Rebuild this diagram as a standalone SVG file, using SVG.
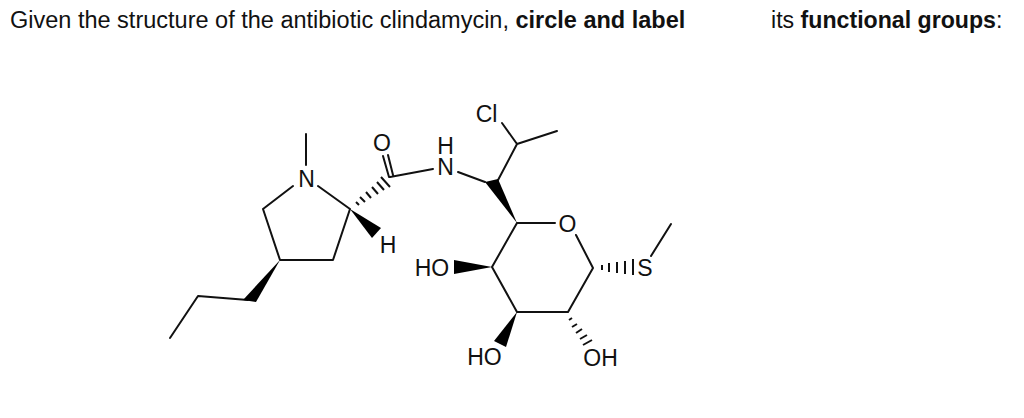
<svg xmlns="http://www.w3.org/2000/svg" width="1024" height="418" viewBox="0 0 1024 418">
<style>
text{font-family:"Liberation Sans",Arial,sans-serif;fill:#111}
.h{font-size:23.5px}
.r{font-size:23.15px}
.a{font-size:23px;text-anchor:middle}
.b{stroke:#111;stroke-width:2;fill:none;stroke-linecap:round;stroke-linejoin:round}
.w{fill:#000;stroke:none}
.d{stroke:#111;stroke-width:2;fill:none}
</style>
<rect width="1024" height="418" fill="#fff"/>
<g id="question">
<text class="h" x="10" y="28">Given the structure of the antibiotic clindamycin, <tspan font-weight="700">circle and label</tspan></text>
<text class="r" x="771" y="28">its <tspan font-weight="700">functional groups</tspan>:</text>
</g>
<g id="connectors">
<path class="b" d="M306 134V165M293 186L263 209L280 260H333L350 209L318 186"/>
<path class="b" d="M390 177L433 169M389 177L383 156M393 175L388 155"/>
<path class="b" d="M170 338L198 296L248 300"/>
<path class="b" d="M458 172L485 182M497 182L517 144L557 131M517 144L502 123"/>
<path class="b" d="M517 223H555M576 235L593 268L568 312H517L492 267L517 223"/>
<path class="b" d="M651 256L671 224"/>
<path class="w" d="M280 260L243 300L256 302Z"/>
<path class="w" d="M350 209L381 228L372 238Z"/>
<path class="w" d="M517 223L485 182L498 179Z"/>
<path class="w" d="M492 267L454 260V274Z"/>
<path class="w" d="M517 312L494 341L506 347Z"/>
<path class="d" d="M356 202L359 205M360 197L365 202M366 192L371 198M372 187L378 194M377 182L384 190M381 177L390 187"/>
<path class="d" d="M602 265V270M609 263V272M617 262V273M625 261V274M633 259V275"/>
<path class="d" d="M569 320L572 318M572 327L577 324M576 333L582 329M580 339L587 335M583 345L592 340"/>
</g>
<g id="atom-n1"><text class="a" x="306.500" y="187">N</text></g>
<g id="atom-o1"><text class="a" x="382" y="151">O</text></g>
<g id="atom-h1"><text class="a" x="388" y="253">H</text></g>
<g id="atom-nh"><text class="a"><tspan x="445.500" y="154">H</tspan><tspan x="445.500" y="175">N</tspan></text></g>
<g id="atom-cl"><text class="a" x="486.500" y="122">Cl</text></g>
<g id="atom-o2"><text class="a" x="567.500" y="232">O</text></g>
<g id="atom-s"><text class="a" x="645" y="276">S</text></g>
<g id="atom-oh1"><text class="a" x="432" y="276">HO</text></g>
<g id="atom-oh2"><text class="a" x="484.500" y="365">HO</text></g>
<g id="atom-oh3"><text class="a" x="600.500" y="366">OH</text></g>
</svg>
